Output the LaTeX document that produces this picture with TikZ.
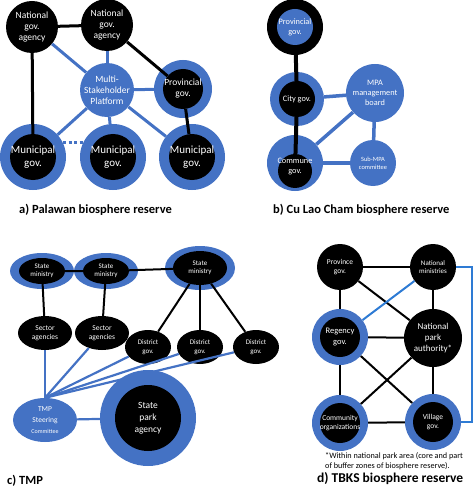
\documentclass[tikz,border=0pt]{standalone}
\usepackage{fontspec}
\setmainfont{Carlito}
\usetikzlibrary{shapes.geometric}
\definecolor{mblue}{HTML}{4472C4}
\definecolor{lblue}{HTML}{2E7BD4}
\newcommand{\fsz}[2]{\fontsize{#1}{#2}\selectfont}

\begin{document}
\begin{tikzpicture}[x=1pt,y=-1pt,
    blk/.style={circle, fill=black, text=white, inner sep=-12pt, align=center, minimum size=#1},
    blu/.style={circle, fill=mblue, text=white, inner sep=-12pt, align=center, minimum size=#1},
    blkell/.style 2 args={ellipse, fill=black, text=white, inner sep=-12pt, align=center, minimum width=#1, minimum height=#2},
    bluell/.style 2 args={ellipse, fill=mblue, text=white, inner sep=-12pt, align=center, minimum width=#1, minimum height=#2},
    caption/.style={anchor=west, inner sep=1pt, font=\fsz{12.5}{14}\bfseries},
    kline/.style={black, line width=#1},
    bline/.style={mblue, line width=#1}]
    \useasboundingbox (0,0) rectangle (474,489);

    % a) Palawan
    \begin{scope}[font=\fsz{9.5}{11}]
    \node[blk=52] (nga1) at (32,27) {National\\gov.\\agency};
    \node[blk=52] (nga2) at (107,25) {National\\gov.\\agency};
    \node[blu=54] (msp) at (107,90) {Multi-\\Stakeholder\\Platform};
    \node[blu=58] (prov) at (183,89) {};
    \node[blk=40] (iprov) at (183,89) {Provincial\\gov.};
    \foreach \n/\x in {1/33,2/113,3/192}{%
        \node[blu=66] (mun\n) at (\x,157) {};
        \node[blk=46, font=\fsz{11}{12.5}] (imun\n) at (\x,157) {Municipal\\gov.};
    }
    \end{scope}
    \foreach \a/\b in {nga1/msp,nga2/msp,msp/prov,msp/mun1,msp/mun2,msp/mun3}
        \draw[bline=3] (\a) -- (\b);
    \foreach \a/\b in {nga1/nga2,nga1/imun1,nga2/iprov,iprov/imun3}
        \draw[kline=3] (\a) -- (\b);
    \draw[bline=3, dash pattern=on 3pt off 2.5pt] (mun1.25) -- (mun2.155);
    \node[caption] (capa) at (18,210) {a) Palawan biosphere reserve};

    % b) Cu Lao Cham
    \begin{scope}[font=\fsz{8.3}{10}]
    \node[blk=56] (bprov) at (295,27) {};
    \node[blu=36] (ibprov) at (295,27) {Provincial\\gov.};
    \node[blu=54] (city) at (297,99) {};
    \node[blk=36] (icity) at (297,99) {City gov.};
    \node[blu=56] (comm) at (295,163) {};
    \node[blk=26] (icomm) at (295,171) {};
    \node[blu=58] (mpa) at (375,93) {MPA\\management\\board};
    \node[blu=46, font=\fsz{6.4}{8}] (submpa) at (373,163) {Sub-MPA\\committee};
    \end{scope}
    \foreach \a/\b in {city/mpa,comm/mpa,comm/submpa,mpa/submpa}
        \draw[bline=3.5] (\a) -- (\b);
    \draw[kline=4] (bprov) -- (icity) -- (icomm);
    \node[text=white, align=center, font=\fsz{8.3}{10}] (tcomm) at (295,167) {Commune\\gov.};
    \node[caption] (capb) at (272,210) {b) Cu Lao Cham biosphere reserve};

    % c) TMP
    \begin{scope}[font=\fsz{7}{8.5}]
    \foreach \n/\x in {1/42,2/106}{%
        \node[bluell={64}{36}] (sm\n) at (\x,271) {};
        \node[blkell={46}{26}] (ism\n) at (\x,271) {State\\ministry};
    }
    \node[bluell={70}{44}] (sm3) at (200,268) {};
    \node[blkell={54}{34}] (ism3) at (200,268) {State\\ministry};
    \foreach \n/\x in {1/45,2/102}
        \node[blkell={54}{34}, font=\fsz{7.5}{9.5}] (sa\n) at (\x,333) {Sector\\agencies};
    \foreach \n/\x in {1/148,2/200,3/256}
        \node[blkell={46}{34}, font=\fsz{7}{9}] (dg\n) at (\x,347) {District\\gov.};
    \node[bluell={64}{44}, font=\fsz{7.5}{11}] (tmp) at (45,420) {TMP\\Steering\\{\fsz{6}{7}Committee}};
    \end{scope}
    \node[blu=96] (spa) at (148,418) {};
    \node[blk=66, font=\fsz{9.5}{12}] (ispa) at (148,418) {State\\park\\agency};
    % steering committee links, drawn over the park agency ring
    \coordinate (hub) at (tmp.north);
    \foreach \t in {sa1,sa2,dg1,dg2,dg3}
        \draw[bline=2.2] (hub) -- (\t);
    \draw[bline=2.2] (tmp) -- (spa);
    \draw[kline=2] (ism1) -- (ism2) -- (ism3);
    \foreach \a/\b in {ism1/sa1,ism2/sa2,ism3/dg1,ism3/dg2,ism3/dg3}
        \draw[kline=2] (\a) -- (\b);
    \node[caption] (capc) at (6,481) {c) TMP};

    % d) TBKS
    \begin{scope}[font=\fsz{7.5}{9}]
    \node[blk=46] (pg) at (340,267) {Province\\gov.};
    \node[blk=46, font=\fsz{7}{8.5}] (nm) at (433,267) {National\\ministries};
    \node[blu=56] (rg) at (340,337) {};
    \node[blk=40, font=\fsz{8.5}{10}] (irg) at (340,337) {Regency\\gov.};
    \node[blk=58, font=\fsz{9}{11}] (npa) at (433,338) {National\\park\\authority*};
    \node[blu=56] (co) at (340,423) {};
    \node[blk=40] (ico) at (340,423) {Community\\organizations};
    \node[blu=56] (vg) at (433,422) {};
    \node[blk=40] (ivg) at (433,422) {Village\\gov.};
    \end{scope}
    \foreach \a/\b in {pg/nm,pg/rg,pg/npa,nm/npa,rg/npa,rg/co,rg/vg,npa/co,npa/vg,co/vg}
        \draw[kline=2] (\a) -- (\b);
    \draw[lblue, line width=2] (rg) -- (nm);
    \draw[lblue, line width=2] (nm.east) -- ++(16,0) |- (vg.east);
    \node[anchor=north west, align=left, inner sep=1pt, font=\fsz{8.2}{10}] (note) at (324,451)
        {*Within national park area (core and part\\of buffer zones of biosphere reserve).};
    \node[caption, font=\fsz{13.5}{15}\bfseries] (capd) at (316,479) {d) TBKS biosphere reserve};
\end{tikzpicture}
\end{document}
